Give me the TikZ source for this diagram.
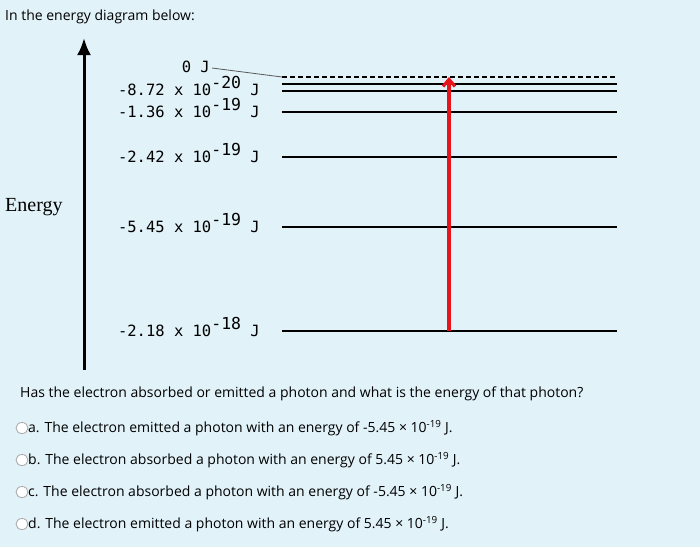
\documentclass[tikz,border=0pt]{standalone}
\usepackage{fontspec}
\usetikzlibrary{arrows.meta,shapes.geometric}
\setmainfont{Open Sans}
\newfontfamily\monof{DejaVu Sans Mono}
\newfontfamily\serf{Liberation Serif}
\definecolor{bg}{HTML}{E1F2F9}
\definecolor{arr}{HTML}{E8141B}
\newcommand{\msup}[1]{\raisebox{0.45em}{\fontsize{16.5}{16}\selectfont #1}}
\newcommand{\tsup}[1]{\textsuperscript{#1}}
\begin{document}
\begin{tikzpicture}[x=1pt,y=-1pt,
  lvl/.style={line width=1.4pt},
  lab/.style={anchor=east,font=\monof\fontsize{15.5}{16}\selectfont,inner sep=0},
  txt/.style={anchor=west,font=\fontsize{14}{16}\selectfont,inner sep=0}]
\fill[bg] (0,0) rectangle (700,547);
\useasboundingbox (0,0) rectangle (700,547);
\node[txt] (title) at (5,17) {In the energy diagram below:};
\coordinate (ab) at (84,370); \coordinate (at) at (84,38);
\draw[line width=3pt,-{Latex[length=17pt,width=14pt]}] (ab) -- (at);
\node[anchor=west,inner sep=0,font=\serf\fontsize{20}{22}\selectfont] (en) at (5,207) {Energy};
\foreach \n/\y in {a/84,b/91,c/112,d/157,e/227,f/331}{
  \coordinate (\n1) at (282,\y); \coordinate (\n2) at (617,\y);
  \draw[lvl] (\n1) -- (\n2);}
\coordinate (z1) at (282,77); \coordinate (z2) at (617,77);
\draw[line width=1.3pt,dash pattern=on 5pt off 3pt] (z1) -- (z2);
\node[lab] (l0) at (210,67) {0 J};
\draw[gray!70!black,line width=0.8pt] (l0.east) ++(2pt,1) -- (z1);
\node[lab,anchor=base east] (l1) at (260,95) {-8.72 x 10\msup{-20} J};
\node[lab,anchor=base east] (l2) at (260,117) {-1.36 x 10\msup{-19} J};
\node[lab,anchor=base east] (l3) at (260,162) {-2.42 x 10\msup{-19} J};
\node[lab,anchor=base east] (l4) at (260,232) {-5.45 x 10\msup{-19} J};
\node[lab,anchor=base east] (l5) at (260,336) {-2.18 x 10\msup{-18} J};
\coordinate (rb) at (449,331); \coordinate (rt) at (449,77);
\draw[arr,line width=3.2pt,-{Straight Barb[length=7pt,width=12pt]}] (rb) -- (rt);
\node[txt] (q) at (20,394) {Has the electron absorbed or emitted a photon and what is the energy of that photon?};
\foreach \n/\y/\t in {a/428/{a. The electron emitted a photon with an energy of -5.45 × 10\tsup{-19} J.},
 b/460/{b. The electron absorbed a photon with an energy of 5.45 × 10\tsup{-19} J.},
 c/492/{c. The electron absorbed a photon with an energy of -5.45 × 10\tsup{-19} J.},
 d/524/{d. The electron emitted a photon with an energy of 5.45 × 10\tsup{-19} J.}}{
  \node[draw=gray!70,fill=white,ellipse,minimum width=12pt,minimum height=11pt,inner sep=0,line width=0.8pt] (r\n) at (22,\y) {};
  \node[txt] (o\n) at (28,\y) {\t};}
\end{tikzpicture}
\end{document}
